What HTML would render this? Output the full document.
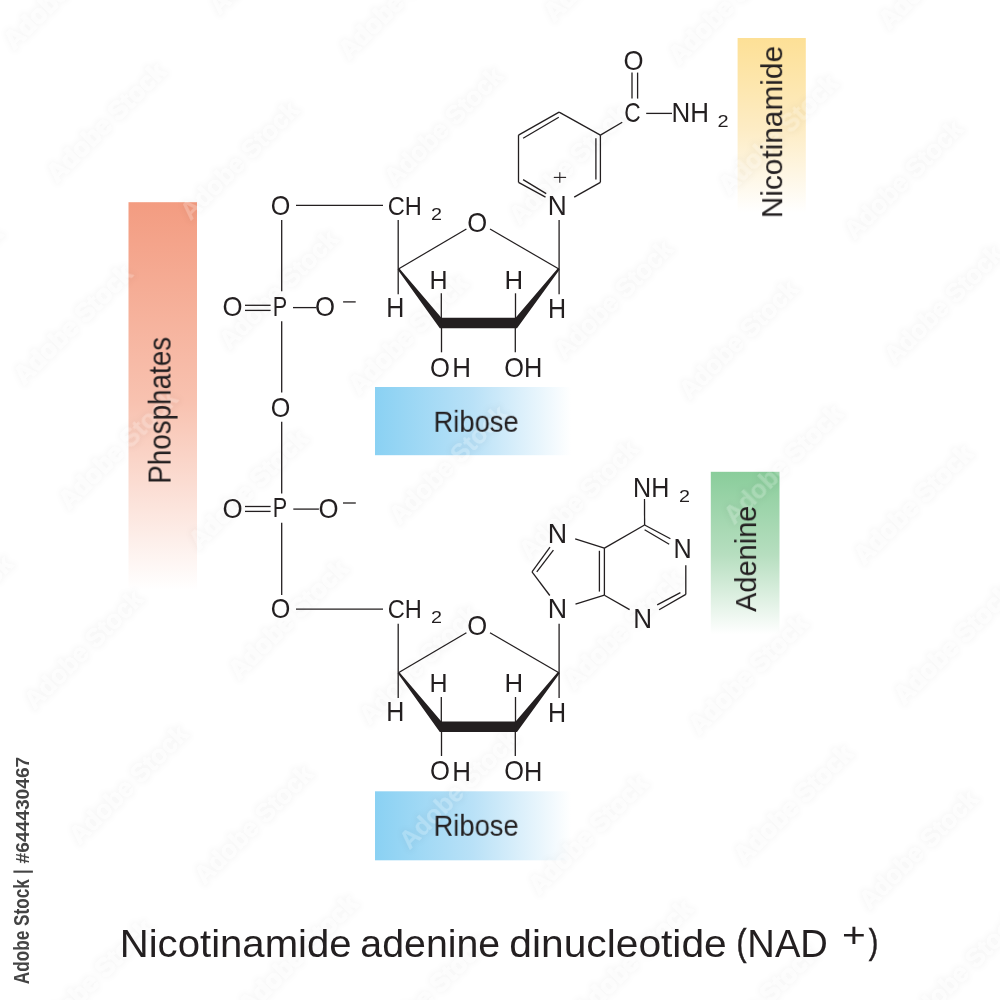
<!DOCTYPE html>
<html><head><meta charset="utf-8"><style>
html,body{margin:0;padding:0;background:#fff;}
svg{display:block;will-change:transform;}
text{font-family:"Liberation Sans",sans-serif;}
</style></head><body>
<svg width="1000" height="1000" viewBox="0 0 1000 1000">
<defs>
<linearGradient id="gP" x1="0" y1="0" x2="0" y2="1"><stop offset="0" stop-color="#f39c81"/><stop offset="0.5" stop-color="#f8c2b0"/><stop offset="0.97" stop-color="#ffffff"/></linearGradient>
<linearGradient id="gR" x1="0" y1="0" x2="1" y2="0"><stop offset="0" stop-color="#8ad1f3"/><stop offset="0.5" stop-color="#b9e1f7"/><stop offset="1" stop-color="#ffffff"/></linearGradient>
<linearGradient id="gN" x1="0" y1="0" x2="0" y2="1"><stop offset="0" stop-color="#fde096"/><stop offset="0.5" stop-color="#fdecc4"/><stop offset="0.97" stop-color="#ffffff"/></linearGradient>
<linearGradient id="gA" x1="0" y1="0" x2="0" y2="1"><stop offset="0" stop-color="#8acd9b"/><stop offset="0.5" stop-color="#b6debf"/><stop offset="0.985" stop-color="#ffffff"/></linearGradient>
</defs>
<rect x="128.5" y="202.2" width="68.5" height="400" fill="url(#gP)"/>
<rect x="375" y="387" width="196" height="68.2" fill="url(#gR)"/>
<rect x="375" y="791.3" width="196" height="69" fill="url(#gR)"/>
<rect x="737.6" y="38" width="68.2" height="180" fill="url(#gN)"/>
<rect x="710.8" y="471.8" width="68.7" height="165" fill="url(#gA)"/>
<filter id="wmf" x="-30%" y="-100%" width="160%" height="300%"><feMorphology in="SourceAlpha" operator="dilate" radius="1.5"/><feGaussianBlur stdDeviation="2.8" result="b"/><feFlood flood-color="#000" flood-opacity="0.13"/><feComposite in2="b" operator="in" result="s"/><feMerge><feMergeNode in="s"/><feMergeNode in="SourceGraphic"/></feMerge></filter>
<g filter="url(#wmf)" fill="#fff" fill-opacity="0.2" font-weight="bold" font-size="25.50" text-anchor="middle">
<text transform="translate(268,-46) rotate(-45)" x="0" y="9.18">Adobe Stock</text>
<text transform="translate(603,-39) rotate(-45)" x="0" y="9.18">Adobe Stock</text>
<text transform="translate(938,-31) rotate(-45)" x="0" y="9.18">Adobe Stock</text>
<text transform="translate(63,-11) rotate(-45)" x="0" y="9.18">Adobe Stock</text>
<text transform="translate(398,-1) rotate(-45)" x="0" y="9.18">Adobe Stock</text>
<text transform="translate(728,4) rotate(-45)" x="0" y="9.18">Adobe Stock</text>
<text transform="translate(106,122) rotate(-45)" x="0" y="9.18">Adobe Stock</text>
<text transform="translate(443,126) rotate(-45)" x="0" y="9.18">Adobe Stock</text>
<text transform="translate(778,134) rotate(-45)" x="0" y="9.18">Adobe Stock</text>
<text transform="translate(239,160) rotate(-45)" x="0" y="9.18">Adobe Stock</text>
<text transform="translate(568,164) rotate(-45)" x="0" y="9.18">Adobe Stock</text>
<text transform="translate(903,179) rotate(-45)" x="0" y="9.18">Adobe Stock</text>
<text transform="translate(-57,284) rotate(-45)" x="0" y="9.18">Adobe Stock</text>
<text transform="translate(278,289) rotate(-45)" x="0" y="9.18">Adobe Stock</text>
<text transform="translate(613,299) rotate(-45)" x="0" y="9.18">Adobe Stock</text>
<text transform="translate(943,304) rotate(-45)" x="0" y="9.18">Adobe Stock</text>
<text transform="translate(73,324) rotate(-45)" x="0" y="9.18">Adobe Stock</text>
<text transform="translate(408,334) rotate(-45)" x="0" y="9.18">Adobe Stock</text>
<text transform="translate(738,339) rotate(-45)" x="0" y="9.18">Adobe Stock</text>
<text transform="translate(118,449) rotate(-45)" x="0" y="9.18">Adobe Stock</text>
<text transform="translate(448,464) rotate(-45)" x="0" y="9.18">Adobe Stock</text>
<text transform="translate(783,464) rotate(-45)" x="0" y="9.18">Adobe Stock</text>
<text transform="translate(248,489) rotate(-45)" x="0" y="9.18">Adobe Stock</text>
<text transform="translate(578,499) rotate(-45)" x="0" y="9.18">Adobe Stock</text>
<text transform="translate(913,504) rotate(-45)" x="0" y="9.18">Adobe Stock</text>
<text transform="translate(-47,614) rotate(-45)" x="0" y="9.18">Adobe Stock</text>
<text transform="translate(288,619) rotate(-45)" x="0" y="9.18">Adobe Stock</text>
<text transform="translate(623,629) rotate(-45)" x="0" y="9.18">Adobe Stock</text>
<text transform="translate(953,644) rotate(-45)" x="0" y="9.18">Adobe Stock</text>
<text transform="translate(83,649) rotate(-45)" x="0" y="9.18">Adobe Stock</text>
<text transform="translate(418,664) rotate(-45)" x="0" y="9.18">Adobe Stock</text>
<text transform="translate(748,674) rotate(-45)" x="0" y="9.18">Adobe Stock</text>
<text transform="translate(128,784) rotate(-45)" x="0" y="9.18">Adobe Stock</text>
<text transform="translate(458,789) rotate(-45)" x="0" y="9.18">Adobe Stock</text>
<text transform="translate(793,804) rotate(-45)" x="0" y="9.18">Adobe Stock</text>
<text transform="translate(253,824) rotate(-45)" x="0" y="9.18">Adobe Stock</text>
<text transform="translate(588,834) rotate(-45)" x="0" y="9.18">Adobe Stock</text>
<text transform="translate(918,849) rotate(-45)" x="0" y="9.18">Adobe Stock</text>
<text transform="translate(298,954) rotate(-45)" x="0" y="9.18">Adobe Stock</text>
<text transform="translate(633,959) rotate(-45)" x="0" y="9.18">Adobe Stock</text>
<text transform="translate(963,969) rotate(-45)" x="0" y="9.18">Adobe Stock</text>
<text transform="translate(93,979) rotate(-45)" x="0" y="9.18">Adobe Stock</text>
<text transform="translate(428,994) rotate(-45)" x="0" y="9.18">Adobe Stock</text>
<text transform="translate(758,1004) rotate(-45)" x="0" y="9.18">Adobe Stock</text>
</g>
<text transform="translate(170.60,483.78) rotate(-90) scale(0.9031,1)" font-size="30.81" font-weight="normal" fill="#231f20" >Phosphates</text>
<text transform="translate(433.56,431.80) scale(0.9135,1)" font-size="29.94" font-weight="normal" fill="#231f20" >Ribose</text>
<text transform="translate(433.56,835.80) scale(0.9135,1)" font-size="29.94" font-weight="normal" fill="#231f20" >Ribose</text>
<text transform="translate(782.20,218.25) rotate(-90) scale(0.9816,1)" font-size="30.38" font-weight="normal" fill="#231f20" >Nicotinamide</text>
<text transform="translate(756.10,611.96) rotate(-90) scale(0.9538,1)" font-size="30.38" font-weight="normal" fill="#231f20" >Adenine</text>
<text transform="translate(119.71,956.60) scale(1.0384,1)" font-size="38.66" font-weight="normal" fill="#231f20" >Nicotinamide</text>
<text transform="translate(360.35,956.60) scale(1.0166,1)" font-size="38.66" font-weight="normal" fill="#231f20" >adenine</text>
<text transform="translate(509.29,956.60) scale(1.0541,1)" font-size="38.66" font-weight="normal" fill="#231f20" >dinucleotide</text>
<text transform="translate(736.43,954.57) scale(0.8300,1)" font-size="36.37" font-weight="normal" fill="#231f20" stroke="#231f20" stroke-width="0.5">(</text>
<text transform="translate(747.37,956.60) scale(0.9712,1)" font-size="39.24" font-weight="normal" fill="#231f20" >NAD</text>
<text transform="translate(842.00,947.18) scale(1.1650,1)" font-size="34.97" font-weight="normal" fill="#231f20" >+</text>
<text transform="translate(868.63,954.32) scale(0.8149,1)" font-size="35.19" font-weight="normal" fill="#231f20" stroke="#231f20" stroke-width="0.5">)</text>
<text transform="translate(29.00,984.23) rotate(-90) scale(0.8112,1)" font-size="21.22" font-weight="bold" fill="#444444" >Adobe Stock</text>
<rect x="13.4" y="870.6" width="19.5" height="2.1" fill="#444444"/>
<text transform="translate(29.00,863.43) rotate(-90) scale(1.0152,1)" font-size="18.90" font-weight="bold" fill="#444444" >#644430467</text>
<text transform="translate(270.72,214.53) scale(0.9286,1)" font-size="27.12" font-weight="normal" fill="#231f20" >O</text>
<line x1="296" y1="205.4" x2="383" y2="205.4" stroke="#231f20" stroke-width="1.3"/>
<text transform="translate(387.69,214.63) scale(0.8851,1)" font-size="26.69" font-weight="normal" fill="#231f20" >CH</text>
<text transform="translate(431.01,219.60) scale(1.1675,1)" font-size="16.91" font-weight="normal" fill="#231f20" >2</text>
<line x1="398.2" y1="220" x2="398.2" y2="269" stroke="#231f20" stroke-width="1.3"/>
<text transform="translate(467.30,231.62) scale(0.9208,1)" font-size="27.82" font-weight="normal" fill="#231f20" >O</text>
<line x1="398.4" y1="269" x2="466.4" y2="229" stroke="#231f20" stroke-width="1.3"/>
<line x1="490" y1="229" x2="558.9" y2="269" stroke="#231f20" stroke-width="1.3"/>
<line x1="559.1" y1="220" x2="559.1" y2="294.3" stroke="#231f20" stroke-width="1.3"/>
<polygon points="399.2,268.2 441.4,317.8 515.6,317.8 558.1,268.1 559.7,269.5 517,328.2 439.8,328.2 397.6,269.4" fill="#231f20"/>
<line x1="398.2" y1="269" x2="398.2" y2="294.3" stroke="#231f20" stroke-width="1.3"/>
<text transform="translate(386.15,317.40) scale(0.9314,1)" font-size="26.89" font-weight="normal" fill="#231f20" >H</text>
<line x1="441.3" y1="293.3" x2="441.3" y2="323" stroke="#231f20" stroke-width="1.3"/>
<text transform="translate(429.55,288.70) scale(0.9467,1)" font-size="26.45" font-weight="normal" fill="#231f20" >H</text>
<line x1="515.5" y1="293.3" x2="515.5" y2="323" stroke="#231f20" stroke-width="1.3"/>
<text transform="translate(504.49,288.70) scale(0.9738,1)" font-size="26.45" font-weight="normal" fill="#231f20" >H</text>
<text transform="translate(547.95,317.80) scale(0.9264,1)" font-size="27.03" font-weight="normal" fill="#231f20" >H</text>
<line x1="441.5" y1="328" x2="441.5" y2="352.3" stroke="#231f20" stroke-width="1.3"/>
<line x1="515.3" y1="328" x2="515.3" y2="352.3" stroke="#231f20" stroke-width="1.3"/>
<text transform="translate(430.05,376.73) scale(0.9351,1)" font-size="27.40" font-weight="normal" fill="#231f20" >O</text>
<text transform="translate(452.37,376.80) scale(0.9595,1)" font-size="27.03" font-weight="normal" fill="#231f20" >H</text>
<text transform="translate(504.21,376.72) scale(0.9150,1)" font-size="27.68" font-weight="normal" fill="#231f20" >O</text>
<text transform="translate(524.02,376.80) scale(0.9346,1)" font-size="27.18" font-weight="normal" fill="#231f20" >H</text>
<text transform="translate(270.72,618.23) scale(0.9286,1)" font-size="27.12" font-weight="normal" fill="#231f20" >O</text>
<line x1="296" y1="609.1" x2="383" y2="609.1" stroke="#231f20" stroke-width="1.3"/>
<text transform="translate(387.69,618.33) scale(0.8851,1)" font-size="26.69" font-weight="normal" fill="#231f20" >CH</text>
<text transform="translate(431.01,623.30) scale(1.1675,1)" font-size="16.91" font-weight="normal" fill="#231f20" >2</text>
<line x1="398.2" y1="623.7" x2="398.2" y2="672.7" stroke="#231f20" stroke-width="1.3"/>
<text transform="translate(467.30,635.32) scale(0.9208,1)" font-size="27.82" font-weight="normal" fill="#231f20" >O</text>
<line x1="398.4" y1="672.7" x2="466.4" y2="632.7" stroke="#231f20" stroke-width="1.3"/>
<line x1="490" y1="632.7" x2="558.9" y2="672.7" stroke="#231f20" stroke-width="1.3"/>
<line x1="559.1" y1="623.7" x2="559.1" y2="698.0" stroke="#231f20" stroke-width="1.3"/>
<polygon points="399.2,671.9 441.4,721.5 515.6,721.5 558.1,671.8 559.7,673.2 517,731.9 439.8,731.9 397.6,673.0999999999999" fill="#231f20"/>
<line x1="398.2" y1="672.7" x2="398.2" y2="698.0" stroke="#231f20" stroke-width="1.3"/>
<text transform="translate(386.15,721.10) scale(0.9314,1)" font-size="26.89" font-weight="normal" fill="#231f20" >H</text>
<line x1="441.3" y1="697.0" x2="441.3" y2="726.7" stroke="#231f20" stroke-width="1.3"/>
<text transform="translate(429.55,692.40) scale(0.9467,1)" font-size="26.45" font-weight="normal" fill="#231f20" >H</text>
<line x1="515.5" y1="697.0" x2="515.5" y2="726.7" stroke="#231f20" stroke-width="1.3"/>
<text transform="translate(504.49,692.40) scale(0.9738,1)" font-size="26.45" font-weight="normal" fill="#231f20" >H</text>
<text transform="translate(547.95,721.50) scale(0.9264,1)" font-size="27.03" font-weight="normal" fill="#231f20" >H</text>
<line x1="441.5" y1="731.7" x2="441.5" y2="756.0" stroke="#231f20" stroke-width="1.3"/>
<line x1="515.3" y1="731.7" x2="515.3" y2="756.0" stroke="#231f20" stroke-width="1.3"/>
<text transform="translate(430.05,780.43) scale(0.9351,1)" font-size="27.40" font-weight="normal" fill="#231f20" >O</text>
<text transform="translate(452.37,780.50) scale(0.9595,1)" font-size="27.03" font-weight="normal" fill="#231f20" >H</text>
<text transform="translate(504.21,780.42) scale(0.9150,1)" font-size="27.68" font-weight="normal" fill="#231f20" >O</text>
<text transform="translate(524.02,780.50) scale(0.9346,1)" font-size="27.18" font-weight="normal" fill="#231f20" >H</text>
<line x1="281.7" y1="220" x2="281.7" y2="291.25" stroke="#231f20" stroke-width="1.3"/>
<text transform="translate(222.59,316.02) scale(0.9356,1)" font-size="27.54" font-weight="normal" fill="#231f20" >O</text>
<line x1="245" y1="305.3" x2="270.6" y2="305.3" stroke="#231f20" stroke-width="1.3"/>
<line x1="245" y1="310.4" x2="270.6" y2="310.4" stroke="#231f20" stroke-width="1.3"/>
<text transform="translate(272.73,315.60) scale(0.8083,1)" font-size="26.74" font-weight="normal" fill="#231f20" >P</text>
<line x1="293" y1="307.6" x2="316.4" y2="307.6" stroke="#231f20" stroke-width="1.3"/>
<text transform="translate(314.89,316.02) scale(0.9356,1)" font-size="27.54" font-weight="normal" fill="#231f20" >O</text>
<line x1="343.1" y1="301.9" x2="355.7" y2="301.9" stroke="#231f20" stroke-width="1.3"/>
<line x1="281.7" y1="321.25" x2="281.7" y2="392.5" stroke="#231f20" stroke-width="1.3"/>
<text transform="translate(270.82,417.12) scale(0.9097,1)" font-size="27.68" font-weight="normal" fill="#231f20" >O</text>
<line x1="281.7" y1="421.75" x2="281.7" y2="493.5" stroke="#231f20" stroke-width="1.3"/>
<text transform="translate(222.48,517.53) scale(0.9458,1)" font-size="27.40" font-weight="normal" fill="#231f20" >O</text>
<line x1="245" y1="506.5" x2="270.6" y2="506.5" stroke="#231f20" stroke-width="1.3"/>
<line x1="245" y1="511.4" x2="270.6" y2="511.4" stroke="#231f20" stroke-width="1.3"/>
<text transform="translate(272.73,517.30) scale(0.8083,1)" font-size="26.74" font-weight="normal" fill="#231f20" >P</text>
<line x1="293.3" y1="509.1" x2="318.9" y2="509.1" stroke="#231f20" stroke-width="1.3"/>
<text transform="translate(318.39,517.53) scale(0.9404,1)" font-size="27.40" font-weight="normal" fill="#231f20" >O</text>
<line x1="343" y1="503" x2="355.8" y2="503" stroke="#231f20" stroke-width="1.3"/>
<line x1="281.7" y1="522.75" x2="281.7" y2="595" stroke="#231f20" stroke-width="1.3"/>
<line x1="559.1" y1="112.1" x2="600.4" y2="135.1" stroke="#231f20" stroke-width="1.3"/>
<line x1="600.4" y1="135.1" x2="600.4" y2="182.4" stroke="#231f20" stroke-width="1.3"/>
<line x1="518.5" y1="135.1" x2="559.1" y2="112.1" stroke="#231f20" stroke-width="1.3"/>
<line x1="518.5" y1="135.1" x2="518.5" y2="182.4" stroke="#231f20" stroke-width="1.3"/>
<line x1="518.5" y1="182.4" x2="545.5" y2="197.1" stroke="#231f20" stroke-width="1.3"/>
<line x1="600.4" y1="182.4" x2="574.2" y2="197.1" stroke="#231f20" stroke-width="1.3"/>
<line x1="523.1" y1="138.3" x2="558.8" y2="117.3" stroke="#231f20" stroke-width="1.3"/>
<line x1="595.9" y1="138.3" x2="595.9" y2="179.6" stroke="#231f20" stroke-width="1.3"/>
<line x1="523.1" y1="179.6" x2="546.2" y2="193.6" stroke="#231f20" stroke-width="1.3"/>
<text transform="translate(547.74,214.80) scale(0.9573,1)" font-size="27.47" font-weight="normal" fill="#231f20" >N</text>
<line x1="553.8" y1="177.4" x2="566.1" y2="177.4" stroke="#231f20" stroke-width="1.1"/>
<line x1="559.8" y1="172.2" x2="559.8" y2="182.7" stroke="#231f20" stroke-width="1.1"/>
<line x1="600.4" y1="135.1" x2="622.25" y2="122.2" stroke="#231f20" stroke-width="1.3"/>
<text transform="translate(624.24,121.92) scale(0.8053,1)" font-size="28.25" font-weight="normal" fill="#231f20" >C</text>
<text transform="translate(623.39,69.52) scale(0.9308,1)" font-size="27.68" font-weight="normal" fill="#231f20" >O</text>
<line x1="632" y1="72.6" x2="632" y2="98.6" stroke="#231f20" stroke-width="1.3"/>
<line x1="637.6" y1="72.6" x2="637.6" y2="98.6" stroke="#231f20" stroke-width="1.3"/>
<line x1="646.2" y1="113.4" x2="672" y2="113.4" stroke="#231f20" stroke-width="1.3"/>
<text transform="translate(671.62,121.80) scale(0.9449,1)" font-size="27.47" font-weight="normal" fill="#231f20" >NH</text>
<text transform="translate(717.50,127.00) scale(1.1705,1)" font-size="17.05" font-weight="normal" fill="#231f20" >2</text>
<text transform="translate(633.04,496.80) scale(0.9199,1)" font-size="27.33" font-weight="normal" fill="#231f20" >NH</text>
<text transform="translate(679.01,501.70) scale(1.1577,1)" font-size="17.05" font-weight="normal" fill="#231f20" >2</text>
<line x1="644.5" y1="499" x2="644.6" y2="525" stroke="#231f20" stroke-width="1.3"/>
<line x1="644.6" y1="525" x2="670.4" y2="538.8" stroke="#231f20" stroke-width="1.3"/>
<line x1="644.6" y1="529.8" x2="669.2" y2="544.2" stroke="#231f20" stroke-width="1.3"/>
<text transform="translate(673.53,557.50) scale(0.9330,1)" font-size="27.03" font-weight="normal" fill="#231f20" >N</text>
<line x1="685.8" y1="565.2" x2="685.8" y2="594.4" stroke="#231f20" stroke-width="1.3"/>
<line x1="685.8" y1="594.4" x2="659.1" y2="609.7" stroke="#231f20" stroke-width="1.3"/>
<line x1="680.4" y1="592.7" x2="657.2" y2="604.8" stroke="#231f20" stroke-width="1.3"/>
<text transform="translate(633.16,627.60) scale(0.9766,1)" font-size="26.74" font-weight="normal" fill="#231f20" >N</text>
<line x1="629.6" y1="609.6" x2="604.4" y2="595.2" stroke="#231f20" stroke-width="1.3"/>
<line x1="604.4" y1="595.2" x2="604.4" y2="548.1" stroke="#231f20" stroke-width="1.3"/>
<line x1="599.4" y1="550.8" x2="599.4" y2="591.6" stroke="#231f20" stroke-width="1.3"/>
<line x1="604.4" y1="548.1" x2="644.6" y2="525" stroke="#231f20" stroke-width="1.3"/>
<text transform="translate(547.80,543.10) scale(1.0033,1)" font-size="26.74" font-weight="normal" fill="#231f20" >N</text>
<line x1="575.2" y1="538.8" x2="604.4" y2="548.1" stroke="#231f20" stroke-width="1.3"/>
<line x1="575.5" y1="604.2" x2="604.4" y2="595.2" stroke="#231f20" stroke-width="1.3"/>
<text transform="translate(547.80,618.20) scale(1.0033,1)" font-size="26.74" font-weight="normal" fill="#231f20" >N</text>
<line x1="549.8" y1="595.5" x2="532" y2="571.8" stroke="#231f20" stroke-width="1.3"/>
<line x1="532" y1="571.8" x2="550" y2="547.2" stroke="#231f20" stroke-width="1.3"/>
<line x1="536.8" y1="571.8" x2="553.4" y2="550.2" stroke="#231f20" stroke-width="1.3"/>
</svg>
</body></html>
